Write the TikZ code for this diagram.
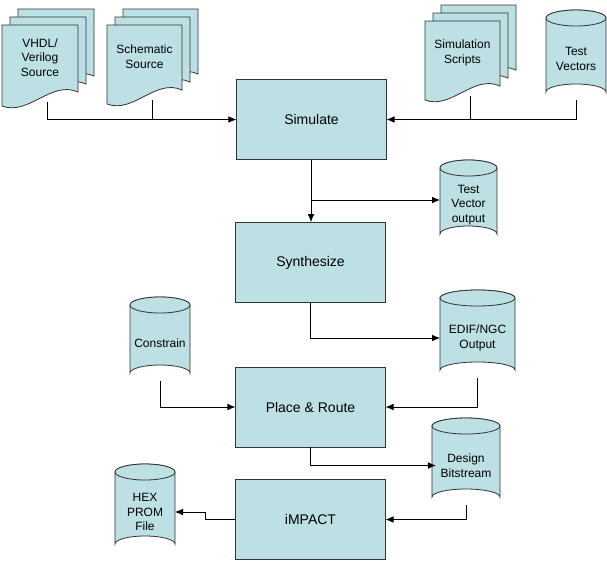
\documentclass[tikz,border=0pt]{standalone}
\usepackage{fontspec}
\setmainfont{Liberation Sans}
\usetikzlibrary{arrows.meta}
\definecolor{boxfill}{HTML}{BCE0E4}

% multi-page document: name, x, y (front page top left), width, height, text
\newcommand{\mdoc}[6]{%
  \foreach \o in {16,8,0}{
    \filldraw[shape line] (#2+\o,#3-\o) -- (#2+#4+\o,#3-\o) -- (#2+#4+\o,#3+#5-14-\o)
      .. controls (#2+0.65*#4+\o,#3+#5-26-\o) and (#2+0.35*#4+\o,#3+#5+10-\o) .. (#2+\o,#3+#5-\o) -- cycle;
  }
  \node[label text] (#1) at (#2+0.5*#4,#3+0.4*#5) {#6};
  \coordinate (#1b) at (#2+0.6*#4,#3+#5-4);
}
% cylinder: name, centre x, top, bottom, width, text
\newcommand{\cyl}[6]{%
  \filldraw[shape line] (#2-0.5*#5,#3) -- (#2-0.5*#5,#4) arc[start angle=180,end angle=360,x radius=0.5*#5,y radius=8]
    -- (#2+0.5*#5,#3) arc[start angle=0,end angle=-180,x radius=0.5*#5,y radius=8];
  \draw[shape line] (#2-0.5*#5,#3) arc[start angle=180,end angle=-180,x radius=0.5*#5,y radius=8];
  \node[label text] (#1) at (#2,0.5*#3+0.5*#4+4) {#6};
  \coordinate (#1t) at (#2,#3);
  \coordinate (#1b) at (#2,#4+8);
  \coordinate (#1l) at (#2-0.5*#5,0.5*#3+0.5*#4+4);
  \coordinate (#1r) at (#2+0.5*#5,0.5*#3+0.5*#4+4);
}

\begin{document}
\begin{tikzpicture}[x=0.75pt,y=-0.75pt,
    shape line/.style={draw=black!80,fill=boxfill,line width=0.6pt},
    label text/.style={align=center,font=\fontsize{9}{11}\selectfont},
    stage/.style={draw=black!80,fill=boxfill,line width=0.6pt,minimum width=112pt,minimum height=60pt,font=\fontsize{10.5}{12}\selectfont},
    flow/.style={-{Latex[length=6pt,width=5pt]},line width=0.6pt},
    link/.style={line width=0.6pt}]
\useasboundingbox (0,0) rectangle (607,562);

\node[stage] (sim) at (311.5,119.5) {Simulate};
\node[stage] (syn) at (310.5,262.5) {Synthesize};
\node[stage] (par) at (310.5,407) {Place \& Route};
\node[stage] (imp) at (310.5,519.5) {iMPACT};

\mdoc{vhdl}{2}{25}{76}{81}{VHDL/\\Verilog\\Source}
\mdoc{schem}{107}{25}{75}{79}{Schematic\\Source}
\mdoc{scripts}{425}{21}{75}{79}{Simulation\\Scripts}

\cyl{tvec}{576}{18}{92}{60}{Test\\Vectors}
\cyl{tout}{468.5}{168}{234}{57}{Test\\Vector\\output}
\cyl{edif}{477.5}{298}{370}{75}{EDIF/NGC\\Output}
\cyl{cons}{160}{305}{373}{60}{Constrain}
\cyl{bits}{466}{426}{497}{68}{Design\\Bitstream}
\cyl{hex}{145}{472}{544}{60}{HEX\\PROM\\File}

\coordinate (j1) at (vhdlb |- sim);
\coordinate (j2) at (tvecb |- sim);
\draw[link] (vhdlb) -- (j1);
\draw[link] (schemb) -- (schemb |- sim);
\draw[flow] (j1) -- (sim.west);
\draw[link] (tvecb) -- (j2);
\draw[link] (scriptsb) -- (scriptsb |- sim);
\draw[flow] (j2) -- (sim.east);

\coordinate (j3) at (311,200);
\draw[flow] (sim.south -| j3) -- (syn.north -| j3);
\draw[flow] (j3) -- (j3 -| toutl);

\draw[flow] (syn.south) |- (edifl);
\draw[flow] (edifb) |- (par.east);
\draw[flow] (consb) |- (par.west);
\draw[flow] (par.south) |- (bits.west);
\draw[flow] (bitsb) |- (imp.east);
\draw[flow] (imp.west) -- (205,519.5) |- (hexr);
\end{tikzpicture}
\end{document}
